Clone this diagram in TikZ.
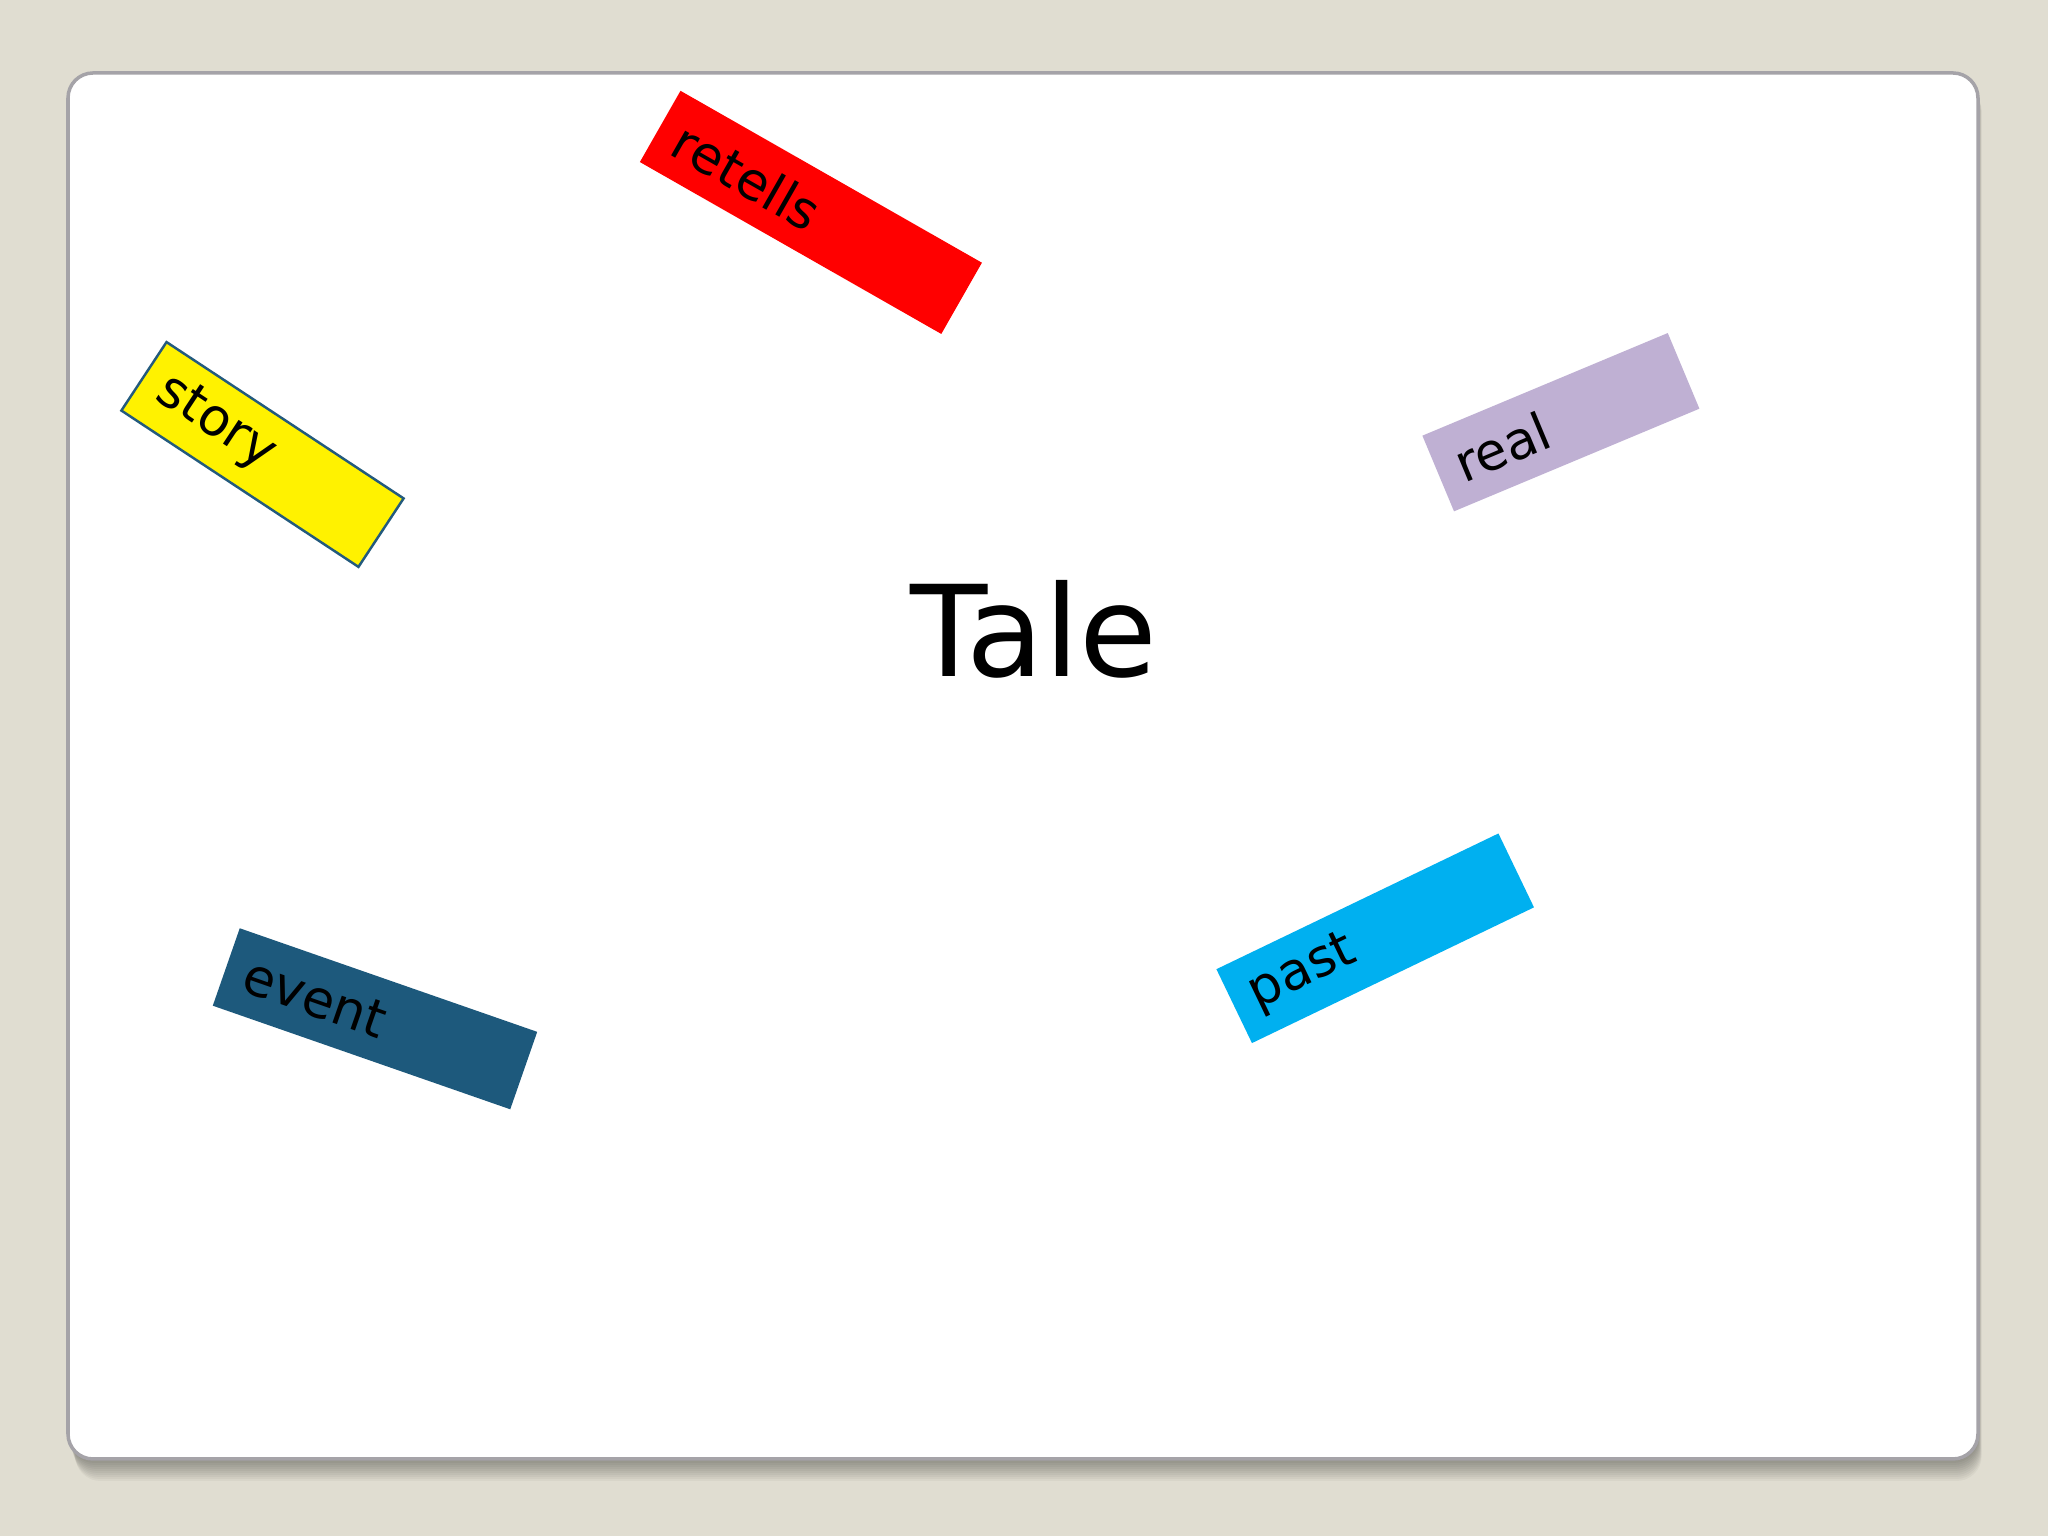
\documentclass[tikz,border=0pt]{standalone}
\usepackage{fontspec}
\setmainfont{DejaVu Sans}
\usepackage{xcolor}
\usetikzlibrary{positioning}

\definecolor{slidebg}{RGB}{224,221,209}
\definecolor{cardline}{RGB}{165,163,168}
\definecolor{storyline}{RGB}{35,90,125}
\definecolor{lilac}{RGB}{191,176,211}
\definecolor{deepblue}{RGB}{29,89,124}
\definecolor{skyblue}{RGB}{0,176,240}

\begin{document}
\begin{tikzpicture}[
    wordbox/.style={
        rectangle,
        minimum height=0.82cm,
        inner xsep=0.2cm,
        inner ysep=0pt,
        align=left,
        font=\fontsize{14.8pt}{18pt}\selectfont
    },
    slidecard/.style={
        fill=white,
        draw=cardline,
        line width=1pt,
        rounded corners=0.25cm
    }
]

% Background and card
\fill [slidebg] (0,0) rectangle (20.48,15.36);
\useasboundingbox (0,0) rectangle (20.48,15.36);
\foreach \d in {0.02,0.04,...,0.22}
    \fill [black, opacity=0.035, rounded corners=0.25cm]
        (0.68+\d/3,14.5) rectangle (19.78+\d/6,0.77-\d);
\path [slidecard] (0.68,14.63) rectangle (19.78,0.77);

% Nodes
\node [anchor=base, inner sep=0pt, font=\fontsize{36pt}{43pt}\selectfont] (title) at (10.34,8.59) {Tale};
\node [wordbox, fill=yellow, draw=storyline, line width=0.7pt, text width=2.44cm, rotate=-33.4] (story) at (2.625,10.815) {story};
\node [wordbox, fill=red, text width=3.07cm, rotate=-29.7] (retells) at (8.109,13.236) {retells};
\node [wordbox, fill=lilac, text width=2.26cm, rotate=22.7] (real) at (15.609,11.138) {real};
\node [wordbox, fill=deepblue, text width=2.75cm, rotate=-19.2] (event) at (3.75,5.172) {event};
\node [wordbox, fill=skyblue, text width=2.73cm, rotate=25.7] (past) at (13.752,5.977) {past};

\end{tikzpicture}
\end{document}
